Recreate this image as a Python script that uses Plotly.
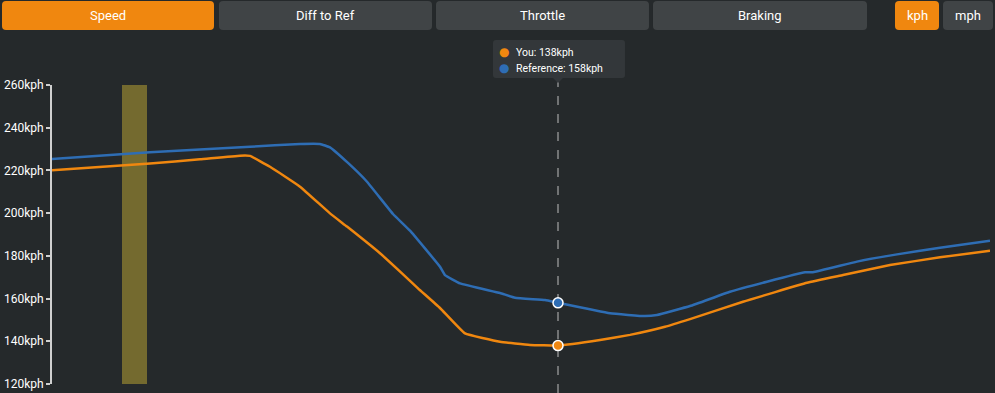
import plotly.graph_objects as go

# ---- data ----
you_dist = [0, 98, 148, 188, 198, 218, 248, 278, 295, 328, 350, 366, 388, 413, 448, 478, 506, 548, 578, 613, 638, 691, 755, 791, 838, 888, 938]
you_kph = [220.1, 223.3, 225.2, 226.9, 226.8, 221.7, 212.4, 199.9, 193.7, 181.2, 171.8, 164.8, 155.6, 143.7, 139.8, 138.3, 138.0, 140.6, 143.0, 146.8, 150.4, 158.5, 167.4, 171.0, 175.7, 179.3, 182.4]

ref_dist = [0, 98, 198, 248, 268, 278, 296, 315, 341, 358, 388, 393, 408, 448, 463, 493, 506, 558, 593, 605, 638, 678, 715, 753, 761, 805, 845, 888, 938]
ref_kph = [225.4, 228.5, 231.1, 232.4, 232.4, 230.8, 223.5, 214.7, 199.6, 191.8, 174.9, 171.0, 167.1, 162.6, 160.4, 159.3, 158.0, 153.1, 151.8, 152.3, 156.5, 163.2, 167.9, 172.3, 172.3, 177.3, 180.7, 183.8, 187.1]

cursor_dist = 506
cursor_you = 138
cursor_ref = 158
band_dist = [70, 95]

y_ticks = [120, 140, 160, 180, 200, 220, 240, 260]
y_labels = [f"{v}kph" for v in y_ticks]
tabs = ["Speed", "Diff to Ref", "Throttle", "Braking"]
units = ["kph", "mph"]

# ---- style ----
BG = "#25292b"
BTN = "#404446"
ORANGE = "#f0870f"
BLUE = "#2e6db4"
FONT = "Roboto"

W, H = 995, 393
ML, MR, MT, MB = 52, 5, 85, 9
PW, PH = W - ML - MR, H - MT - MB


def px_x(p):
    return (p - ML) / PW


def px_y(p):
    return (H - MB - p) / PH


def rrect(x0, y0, x1, y1, r=4):
    X = lambda v: f"{px_x(v):.5f}"
    Y = lambda v: f"{px_y(v):.5f}"
    return (f"M {X(x0+r)},{Y(y0)} L {X(x1-r)},{Y(y0)} Q {X(x1)},{Y(y0)} {X(x1)},{Y(y0+r)} "
            f"L {X(x1)},{Y(y1-r)} Q {X(x1)},{Y(y1)} {X(x1-r)},{Y(y1)} L {X(x0+r)},{Y(y1)} "
            f"Q {X(x0)},{Y(y1)} {X(x0)},{Y(y1-r)} L {X(x0)},{Y(y0+r)} Q {X(x0)},{Y(y0)} {X(x0+r)},{Y(y0)} Z")


fig = go.Figure()

fig.add_trace(go.Scatter(x=you_dist, y=you_kph, mode="lines", line=dict(color=ORANGE, width=2.5, shape="spline", smoothing=0.3), name="You"))
fig.add_trace(go.Scatter(x=ref_dist, y=ref_kph, mode="lines", line=dict(color=BLUE, width=2.5, shape="spline", smoothing=0.3), name="Reference"))
fig.add_trace(go.Scatter(x=[cursor_dist, cursor_dist], y=[cursor_ref, cursor_you], mode="markers",
                         marker=dict(color=[BLUE, ORANGE], size=10, line=dict(color="white", width=1.5))))

shapes = []
shapes.append(dict(type="rect", xref="x", yref="y", x0=band_dist[0], x1=band_dist[1], y0=y_ticks[0], y1=y_ticks[-1],
                   fillcolor="#746a2f", line=dict(width=0), layer="below"))
shapes.append(dict(type="line", xref="x", yref="paper", x0=cursor_dist, x1=cursor_dist, y0=px_y(393), y1=px_y(80),
                   line=dict(color="#8a8c8d", width=1.5, dash="dash"), layer="below"))

annotations = []
btn_boxes = [(2, 214), (219, 432), (436, 649), (653, 867)]
for i, (lab, (a, b)) in enumerate(zip(tabs, btn_boxes)):
    shapes.append(dict(type="path", xref="paper", yref="paper", path=rrect(a, 1, b, 30),
                       fillcolor=ORANGE if i == 0 else BTN, line=dict(width=0)))
    annotations.append(dict(xref="paper", yref="paper", x=px_x((a + b) / 2), y=px_y(16), text=lab, showarrow=False,
                            font=dict(color="white", size=13, family=FONT), xanchor="center", yanchor="middle"))
unit_boxes = [(895, 939), (943, 993)]
for i, (lab, (a, b)) in enumerate(zip(units, unit_boxes)):
    shapes.append(dict(type="path", xref="paper", yref="paper", path=rrect(a, 1, b, 30),
                       fillcolor=ORANGE if i == 0 else BTN, line=dict(width=0)))
    annotations.append(dict(xref="paper", yref="paper", x=px_x((a + b) / 2), y=px_y(16), text=lab, showarrow=False,
                            font=dict(color="white", size=13, family=FONT), xanchor="center", yanchor="middle"))

shapes.append(dict(type="path", xref="paper", yref="paper", path=rrect(493, 40, 625, 78, 3),
                   fillcolor="#33373a", line=dict(width=0)))
shapes.append(dict(type="path", xref="paper", yref="paper",
                   path=f"M {px_x(553):.5f},{px_y(78):.5f} L {px_x(558):.5f},{px_y(83):.5f} L {px_x(563):.5f},{px_y(78):.5f} Z",
                   fillcolor="#33373a", line=dict(width=0)))
tips = [(f"You: {cursor_you}kph", ORANGE, 52), (f"Reference: {cursor_ref}kph", BLUE, 68)]
for txt, col, yy in tips:
    annotations.append(dict(xref="paper", yref="paper", x=px_x(497), y=px_y(yy), text="●", showarrow=False,
                            font=dict(color=col, size=12, family="DejaVu Sans"), xanchor="left", yanchor="middle"))
    annotations.append(dict(xref="paper", yref="paper", x=px_x(514), y=px_y(yy), text=txt, showarrow=False,
                            font=dict(color="white", size=10.5, family=FONT), xanchor="left", yanchor="middle"))

fig.update_layout(
    width=W, height=H,
    margin=dict(l=ML, r=MR, t=MT, b=MB, autoexpand=False),
    paper_bgcolor=BG, plot_bgcolor=BG,
    showlegend=False, hovermode=False,
    shapes=shapes, annotations=annotations,
    xaxis=dict(range=[0, PW], visible=False, showgrid=False, zeroline=False, automargin=False),
    yaxis=dict(range=[y_ticks[0], y_ticks[-1]], tickvals=y_ticks, ticktext=y_labels, showgrid=False, zeroline=False,
               automargin=False,
               showline=True, linecolor="#d0d0d0", linewidth=2, ticks="outside", ticklen=4, tickcolor="#d0d0d0",
               tickwidth=2, tickfont=dict(color="white", size=12, family=FONT)),
)

fig.write_html("out.html", config={"displayModeBar": False},
               post_script="document.body.style.margin='0';document.body.style.background='" + BG + "';")
